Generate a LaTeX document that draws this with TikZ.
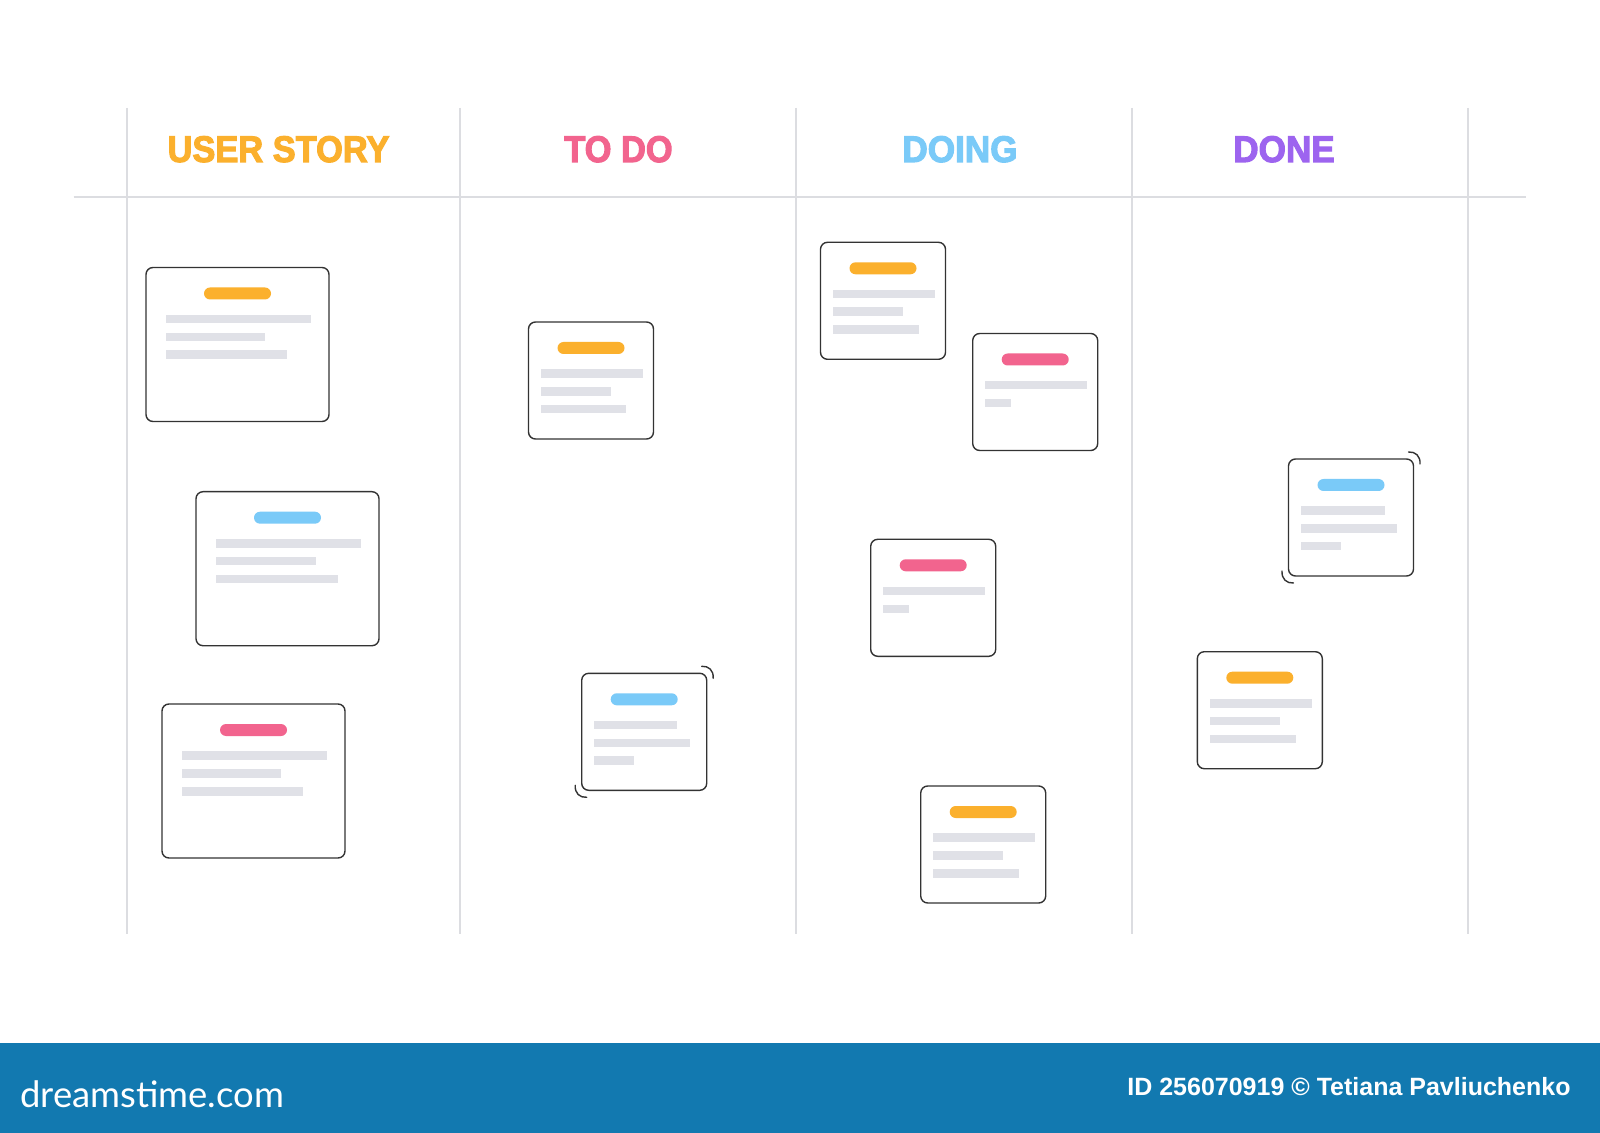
\documentclass[tikz,border=0pt]{standalone}
\usepackage{graphicx}
\usepackage{fontspec}
\setmainfont{Liberation Sans}
\newfontfamily\hdrfont{Liberation Sans}[BoldFeatures={FakeBold=3}]
\newfontfamily\logofont{Lato}
\usetikzlibrary{calc}
\definecolor{gridc}{HTML}{DCDDE1}
\definecolor{cardline}{HTML}{333333}
\definecolor{phc}{HTML}{E0E1E7}
\definecolor{corange}{HTML}{FBB02D}
\definecolor{cpink}{HTML}{F2648E}
\definecolor{cblue}{HTML}{7ACAF8}
\definecolor{cpurple}{HTML}{9D64EF}
\definecolor{barc}{HTML}{1279B0}
\tikzset{
  gridline/.style={draw=gridc, line width=1pt},
  cardbox/.style={draw=cardline, line width=0.7pt, fill=white, rounded corners=3.5pt, inner sep=0pt, outer sep=0pt},
  bigcard/.style={cardbox, minimum width=91.5pt, minimum height=77pt},
  smallcard/.style={cardbox, minimum width=62.5pt, minimum height=58.5pt},
  badge/.style={rounded corners=3pt, minimum width=33.5pt, minimum height=6pt, inner sep=0pt},
  phline/.style={fill=phc},
  hdr/.style={font=\hdrfont\bfseries\fontsize{18.5}{20}\selectfont, anchor=base, inner sep=0pt},
  wig/.style={draw=cardline, line width=0.7pt, line cap=round},
}
% name, style, left, top, inset, badge colour, line widths
\newcommand{\kcard}[7]{%
  \node[#2, anchor=north west] (#1) at (#3,#4) {};
  \node[badge, fill=#6] (#1b) at ($(#1.north)+(0,26)$) {};
  \foreach \w [count=\i] in {#7} {
    \fill[phline] ($(#1.north west)+(#5,29.6+17.8*\i)$) rectangle ++(\w,8.5);
  }
}
\newcommand{\kwiggle}[1]{%
  \draw[wig] ([shift={(-5,-7)}]#1.north east) .. controls ([shift={(2,-7.5)}]#1.north east) and ([shift={(7,-3)}]#1.north east) .. ([shift={(6.5,5)}]#1.north east);
  \draw[wig] ([shift={(5,7)}]#1.south west) .. controls ([shift={(-2,7.5)}]#1.south west) and ([shift={(-7,3)}]#1.south west) .. ([shift={(-6.5,-5)}]#1.south west);
}
\begin{document}
\begin{tikzpicture}[x=0.5pt,y=-0.5pt]
\fill[white] (0,0) rectangle (1600,1133);
\useasboundingbox (0,0) rectangle (1600,1133);
% grid
\draw[gridline] (73.5,196.7) -- (1525.5,196.7);
\foreach \gx in {126.5,460,796,1132,1468} {
  \draw[gridline] (\gx,108) -- (\gx,934);
}
% headers
\node[hdr, text=corange] (hus) at (278.5,162) {\scalebox{0.93}[1]{USER STORY}};
\node[hdr, text=cpink] (htodo) at (618.5,162) {\scalebox{0.93}[1]{TO DO}};
\node[hdr, text=cblue] (hdoing) at (960,162) {\scalebox{0.95}[1]{DOING}};
\node[hdr, text=cpurple] (hdone) at (1284,162) {\scalebox{0.95}[1]{DONE}};
% user story cards
\kcard{us1}{bigcard}{146}{267.5}{20}{corange}{145,99,121}
\kcard{us2}{bigcard}{196}{491.7}{20}{cblue}{145,100,122}
\kcard{us3}{bigcard}{162}{704}{20}{cpink}{145,99,121}
% to do
\kcard{ta}{smallcard}{528.5}{322}{12.5}{corange}{102,70,85}
\kcard{tb}{smallcard}{581.7}{673.3}{12.5}{cblue}{83,96,40}
\kwiggle{tb}
% doing
\kcard{dc}{smallcard}{820.5}{242.3}{12.5}{corange}{102,70,86}
\kcard{dd}{smallcard}{972.7}{333.5}{12.5}{cpink}{102,26}
\kcard{de}{smallcard}{870.7}{539.3}{12.5}{cpink}{102,26}
\kcard{df}{smallcard}{920.7}{786}{12.5}{corange}{102,70,86}
% done
\kcard{ng}{smallcard}{1288.5}{459}{12.5}{cblue}{84,96,40}
\kwiggle{ng}
\kcard{nh}{smallcard}{1197.3}{651.7}{12.5}{corange}{102,70,86}
% bottom bar
\fill[barc] (0,1043) rectangle (1600,1133);
\node[anchor=base west, inner sep=0pt, text=white, font=\logofont\fontsize{18.2}{20}\selectfont] (logo) at (20,1107) {dreamstime.com};
\node[anchor=base west, inner sep=0pt, text=white, font=\bfseries\fontsize{12.5}{14}\selectfont] (credit) at (1127,1095) {ID 256070919 © Tetiana Pavliuchenko};
\end{tikzpicture}
\end{document}
